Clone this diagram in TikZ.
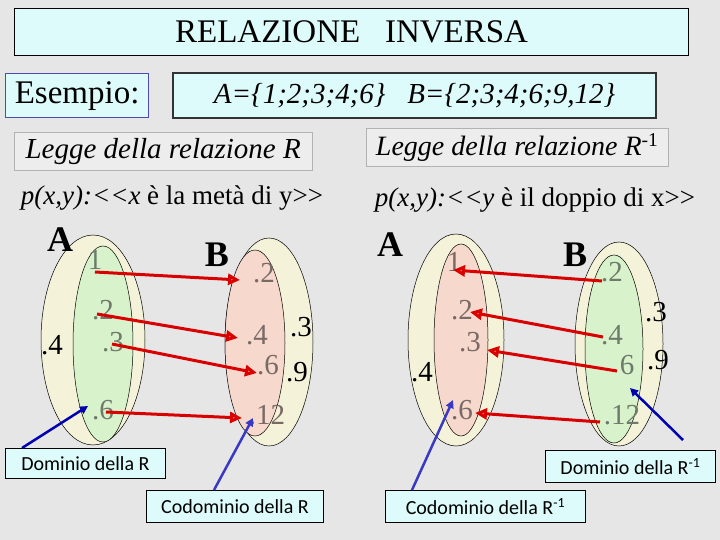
\documentclass[tikz,border=0pt]{standalone}
\usepackage{fontspec}
\setmainfont{Liberation Serif}
\newfontfamily\boxfont{Carlito}
\usetikzlibrary{arrows.meta}
\definecolor{bg}{HTML}{E6E6E6}
\definecolor{cy}{HTML}{DDFBFB}
\definecolor{yel}{HTML}{F4F2D8}
\definecolor{grn}{HTML}{D8F2CC}
\definecolor{pnk}{HTML}{F6D8CC}
\definecolor{elg}{HTML}{6E7A6A}
\definecolor{elp}{HTML}{7A6A66}
\tikzset{
 tbox/.style={draw,fill=cy,line width=1.2pt,inner sep=0pt},
 el/.style={font=\fontsize{29}{29}\selectfont,inner sep=0pt},
 lab/.style={font=\bfseries\fontsize{36}{36}\selectfont,inner sep=0pt},
 ra/.style={draw=red!85!black,line width=3pt,-{Triangle[length=12pt,width=11pt,fill=red!55]}},
 ba/.style={draw=blue!70!black,line width=2.5pt,-{Triangle[length=8pt,width=8pt]}},
 sbox/.style={draw,fill=cy,line width=1pt,font=\boxfont\fontsize{20}{20}\selectfont,inner sep=0pt},
 outer/.style={draw,fill=yel,line width=0.5pt},
 gin/.style={draw,fill=grn,line width=0.5pt},
 pin/.style={draw,fill=pnk,line width=0.5pt},
}
\begin{document}
\begin{tikzpicture}[x=1pt,y=-1pt]
\fill[bg] (0,0) rectangle (720,540);
\useasboundingbox (0,0) rectangle (720,540);
\node[tbox,minimum width=674pt,minimum height=47pt,anchor=north west] (title) at (14,8) {\fontsize{33}{33}\selectfont RELAZIONE\ \ \ INVERSA};
\node[tbox,draw=blue!40!gray,minimum width=143pt,minimum height=44pt,anchor=north west] (es) at (5,73) {\fontsize{33}{33}\selectfont Esempio:};
\node[tbox,line width=2pt,draw=black!80,minimum width=483pt,minimum height=45pt,anchor=north west] (sets) at (172,72) {\fontsize{29}{29}\selectfont\itshape A=\{1;2;3;4;6\}\ \ \ B=\{2;3;4;6;9,12\}};
\node[draw=gray!60,fill=bg!70!white,minimum width=298pt,minimum height=38pt,anchor=north west,inner sep=0pt] (l1) at (14,132) {\fontsize{29}{29}\selectfont\itshape Legge della relazione R};
\node[draw=gray!60,fill=bg!70!white,minimum width=302pt,minimum height=38pt,anchor=north west,inner sep=0pt] (l2) at (366,128) {\fontsize{28}{28}\selectfont\itshape Legge della relazione R\textsuperscript{\upshape -1}};
\node[font=\fontsize{27}{27}\selectfont] (p1) at (172,198) {\textit{p(x,y):{<}{<}x} è la metà di y{>}{>}};
\node[font=\fontsize{27}{27}\selectfont] (p2) at (535,200) {\textit{p(x,y):{<}{<}y} è il doppio di x{>}{>}};
% left diagram
\draw[outer] (93,340) ellipse (52 and 105);
\draw[gin] (103,344) ellipse (30 and 98);
\draw[outer] (269,342) ellipse (44 and 104);
\draw[pin] (255,343) ellipse (30 and 93);
\node[lab] (LA) at (60,240) {A};
\node[lab] (LB) at (217,255) {B};
\node[el,text=elg] (a1) at (95,260) {1};
\node[el,text=elg] (a2) at (103,310) {.2};
\node[el,text=elg] (a3) at (113,342) {.3};
\node[el,text=elg] (a6) at (103,410) {.6};
\node[el] (a4) at (52,345) {.4};
\node[el,text=elp] (b2) at (264,273) {.2};
\node[el,text=elp] (b4) at (257,335) {.4};
\node[el,text=elp] (b6) at (268,365) {.6};
\node[el,text=elp] (b12) at (267,415) {.12};
\node[el] (b3) at (301,327) {.3};
\node[el] (b9) at (297,372) {.9};
\coordinate (s1) at (95,272); \coordinate (e1) at (240,280);
\coordinate (s2) at (97,314); \coordinate (e2) at (238,338);
\coordinate (s3) at (112,344); \coordinate (e3) at (257,373);
\coordinate (s4) at (106,412); \coordinate (e4) at (242,418);
\draw[ra] (s1) -- (e1); \draw[ra] (s2) -- (e2); \draw[ra] (s3) -- (e3); \draw[ra] (s4) -- (e4);
\node[sbox,minimum width=160pt,minimum height=30pt,anchor=north west] (dom1) at (5,448) {Dominio della R};
\node[sbox,minimum width=177pt,minimum height=32pt,anchor=north west] (cod1) at (146,490) {Codominio della R};
\coordinate (d1) at (88,406); \coordinate (c1) at (253,418);
\draw[ba] ([xshift=17pt]dom1.north west) -- (d1);
\draw[ba,draw=blue!55!gray] ([xshift=-21pt]cod1.north) -- (c1);
% right diagram
\draw[outer] (456,340) ellipse (48 and 106);
\draw[pin] (461,340) ellipse (27 and 96);
\draw[outer] (619,344) ellipse (44 and 102);
\draw[gin] (614,349) ellipse (29 and 94);
\node[lab] (RA) at (390,245) {A};
\node[lab] (RB) at (575,255) {B};
\node[el,text=elp] (c1n) at (454,262) {1};
\node[el,text=elp] (c2n) at (462,310) {.2};
\node[el,text=elp] (c3n) at (470,342) {.3};
\node[el] (c4n) at (422,372) {.4};
\node[el,text=elp] (c6n) at (462,410) {.6};
\node[el,text=elg] (r2) at (612,272) {.2};
\node[el,text=elg] (r4) at (612,335) {.4};
\node[el,text=elg] (r6) at (627,365) {6};
\node[el,text=elg] (r12) at (622,415) {.12};
\node[el] (r3) at (656,312) {.3};
\node[el] (r9) at (658,360) {.9};
\coordinate (t1) at (602,281); \coordinate (f1) at (453,270);
\coordinate (t2) at (603,337); \coordinate (f2) at (470,312);
\coordinate (t3) at (617,371); \coordinate (f3) at (487,350);
\coordinate (t4) at (600,422); \coordinate (f4) at (475,413);
\draw[ra] (t1) -- (f1); \draw[ra] (t2) -- (f2); \draw[ra] (t3) -- (f3); \draw[ra] (t4) -- (f4);
\node[sbox,minimum width=170pt,minimum height=32pt,anchor=north west] (dom2) at (545,450) {Dominio della R\textsuperscript{-1}};
\node[sbox,minimum width=200pt,minimum height=32pt,anchor=north west] (cod2) at (385,490) {Codominio della R\textsuperscript{-1}};
\coordinate (d2) at (630,388); \coordinate (c2) at (453,400);
\draw[ba] (683,440) -- (d2);
\draw[ba,draw=blue!55!gray] ([xshift=27pt]cod2.north west) -- (c2);
\end{tikzpicture}
\end{document}
